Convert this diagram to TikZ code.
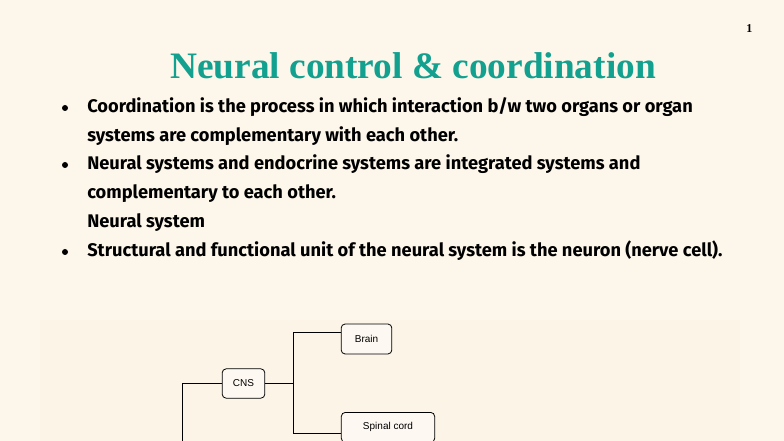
\documentclass[tikz,border=0pt]{standalone}
\usepackage{fontspec}
\setmainfont{Fira Sans}
\newfontfamily\titlefont{Liberation Serif}
\newfontfamily\boxfont{Liberation Sans}
\definecolor{bg}{HTML}{FDF6EA}
\definecolor{bg2}{HTML}{FBF4E7}
\definecolor{teal1}{HTML}{12A08F}
\tikzset{x=0.75pt,y=-0.75pt,
 bul/.style={anchor=base west,font=\fontsize{13.7}{16}\selectfont\bfseries,inner sep=0},
 box/.style={draw,rounded corners=3pt,line width=0.6pt,fill=white!40!bg2,font=\boxfont\fontsize{7.5}{9}\selectfont,inner sep=0},
 wire/.style={line width=0.6pt}}
\begin{document}
\begin{tikzpicture}
\fill[bg] (0,0) rectangle (784,441);
\useasboundingbox (0,0) rectangle (784,441);
\fill[bg2] (40,320) rectangle (740,441);
\node[anchor=base east,font=\titlefont\bfseries\fontsize{9}{10}\selectfont] (pg) at (757,33) {1};
\node[anchor=base,text=teal1,font=\titlefont\bfseries\fontsize{28}{32}\selectfont] (t) at (413,79) {Neural control \& coordination};
\foreach \y in {113,170,257} \fill (65,\y-5) circle (3);
\node[bul] (l1) at (87,113) {Coordination is the process in which interaction b/w two organs or organ};
\node[bul] (l2) at (87,142) {systems are complementary with each other.};
\node[bul] (l3) at (87,170) {Neural systems and endocrine systems are integrated systems and};
\node[bul] (l4) at (87,199) {complementary to each other.};
\node[bul] (l5) at (87,228) {Neural system};
\node[bul] (l6) at (87,257) {Structural and functional unit of the neural system is the neuron (nerve cell).};
\node[box,minimum width=38pt,minimum height=22.5pt] (brain) at (366.5,339) {Brain};
\node[box,minimum width=32pt,minimum height=22pt] (cns) at (243.5,383.5) {CNS};
\node[box,minimum width=70pt,minimum height=22.5pt,anchor=north] (sp) at (388,412) {Spinal cord};
\coordinate (j) at (293,383.5);
\coordinate (bot) at (182,441);
\draw[wire] (bot) |- (cns.west);
\draw[wire] (cns.east) -- (j);
\draw[wire] (j) |- (brain.west |- 0,332);
\draw[wire] (j) |- (sp.west |- 0,433);
\end{tikzpicture}
\end{document}
